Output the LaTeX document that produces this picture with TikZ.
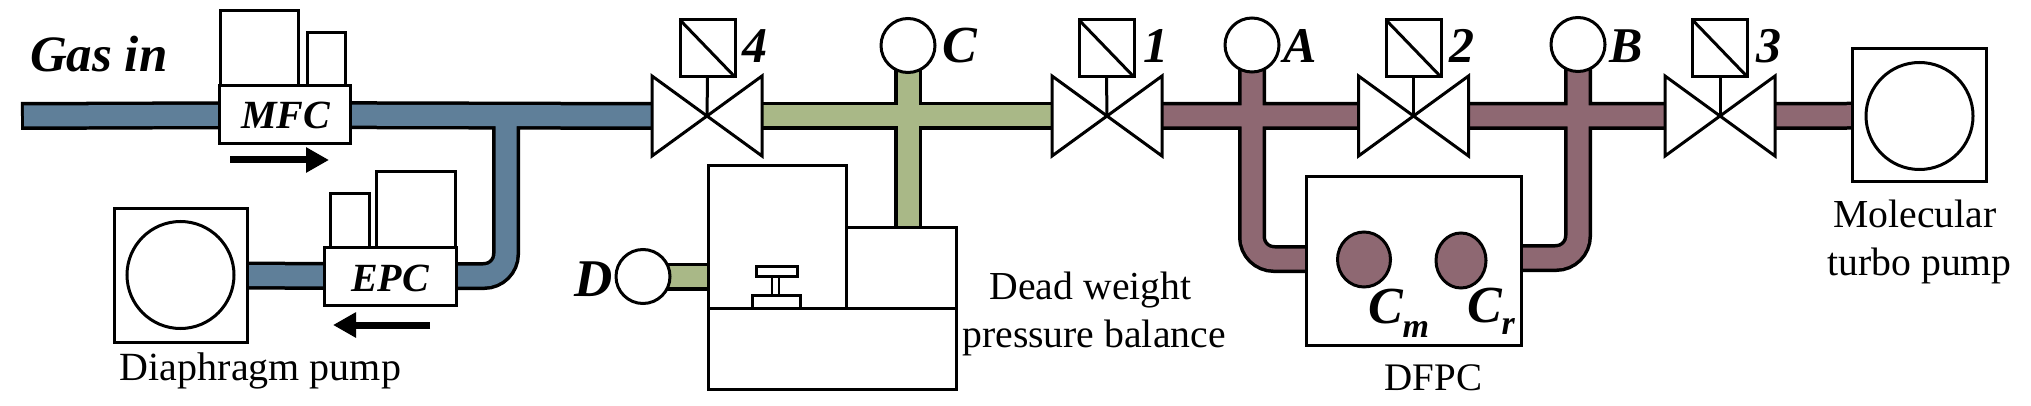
\documentclass[tikz,border=0pt]{standalone}
\usepackage{fontspec}
\setmainfont{Liberation Serif}
\usetikzlibrary{arrows.meta,backgrounds,shapes.geometric}
\definecolor{pipeblue}{HTML}{5F7F99}
\definecolor{pipegreen}{HTML}{A9B887}
\definecolor{pipemaroon}{HTML}{8E6872}
\newcommand{\fs}[1]{\fontsize{#1}{#1}\selectfont}
\tikzset{
  x=1pt,y=-1pt,
  part/.style n args={2}{draw=black,fill=white,rectangle,line width=3pt,inner sep=0pt,outer sep=0pt,minimum width=#1,minimum height=#2},
  ring/.style={draw=black,fill=white,circle,line width=3pt,inner sep=0pt,outer sep=0pt,minimum size=#1},
  chamber/.style n args={2}{draw=black,fill=pipemaroon,ellipse,line width=3pt,inner sep=0pt,outer sep=0pt,minimum width=#1,minimum height=#2},
  valvebody/.style={rectangle,inner sep=0pt,outer sep=0pt,minimum width=#1,minimum height=80pt},
  bowtie/.style={draw=black,fill=white,line width=3pt,line join=miter},
  thin part/.style={line width=2.4pt},
  casing/.style={line width=28pt,draw=black,rounded corners=22pt},
  core/.style={line width=21pt,draw=#1,rounded corners=22pt},
  flow/.style={line width=7pt,-{Triangle[length=23pt,width=24pt]}},
  lbl/.style={anchor=base west,inner sep=0pt,outer sep=0pt,font=\bfseries\itshape\fs{#1}},
  cap/.style={anchor=base,inner sep=0pt,outer sep=0pt,font=\fs{#1}},
}
\begin{document}
\begin{tikzpicture}
\useasboundingbox (0,0) rectangle (2031,406);
% MFC
\node[part={78pt}{75pt}] (mfcbig) at (259,48.5) {};
\node[part={38pt}{53pt}] (mfcsmall) at (326,59.5) {};
\node[part={131pt}{58pt}] (mfc) at (284.5,115) {};
% EPC
\node[part={39pt}{53pt}] (epcsmall) at (349.5,220.5) {};
\node[part={79pt}{75pt}] (epcbig) at (415.5,209.5) {};
\node[part={132pt}{58pt}] (epc) at (390,276) {};
% pumps
\node[part={133pt}{133pt}] (dpump) at (180.5,275.5) {};
\node[ring=107pt] (dpumpc) at (180.5,275) {};
\node[part={134pt}{133pt}] (tpump) at (1919.5,115.5) {};
\node[ring=107pt] (tpumpc) at (1919.5,116) {};
% balance
\node[part={138pt}{142pt}] (bupper) at (777,237) {};
\node[part={110pt}{81pt}] (bright) at (901,267.5) {};
\node[part={248pt}{81pt}] (blower) at (832,348.5) {};
\node[part={7pt}{19pt},thin part] (tstem) at (775.5,285.5) {};
\node[part={41pt}{10pt}] (ttop) at (776.5,271) {};
\node[part={48pt}{13pt}] (tblock) at (776,301.5) {};
% DFPC
\node[part={215pt}{168pt}] (dfpc) at (1413.5,261) {};
\node[chamber={53pt}{55pt}] (cm) at (1364,259.5) {};
\node[chamber={50pt}{55pt}] (cr) at (1461,260.5) {};
% gauges
\node[ring=54pt] (gC) at (908,45.5) {};
\node[ring=54pt] (gA) at (1252,45) {};
\node[ring=54pt] (gB) at (1578,44.5) {};
\node[ring=54pt] (gD) at (643,276.5) {};
% valves
\foreach \n/\vx/\sx in {4/707/707.5,1/1107/1106.5,2/1413.5/1413.5,3/1720/1720}{
  \node[valvebody=110pt] (v\n) at (\vx,116) {};
  \node[part={55pt}{57pt}] (s\n) at (\sx,48.5) {};
  \draw[line width=3pt] (s\n.north west) -- (s\n.south east);
  \draw[line width=3pt] (s\n.south) -- (v\n.center);
  \draw[bowtie] (v\n.north west) -- (v\n.center) -- (v\n.south west) -- cycle;
  \draw[bowtie] (v\n.north east) -- (v\n.center) -- (v\n.south east) -- cycle;
}
% free pipe points
\coordinate (in0) at (21,116);
\coordinate (in1) at (24,116);
\coordinate (j1) at (506,116);
\coordinate (pA) at (1330,259);
\coordinate (pB) at (1500,258);
\begin{pgfonlayer}{background}
  \def\bluepipes{(mfc.center) -- (v4.west) (dpump.center) -- (epc.center) (epc.center) -| (j1)}
  \def\greenpipes{(v4.east) -- (v1.west) (gC.center) -- (gC.center |- bright.center) (gD.center) -- (gD.center -| bupper.center)}
  \def\maroonpipes{(v1.east) -- (v2.west) (v2.east) -- (v3.west) (v3.east) -- (tpump.center) (gA.center) |- (pA) (gB.center) |- (pB)}
  \draw[casing] (in0) -- (mfc.center);
  \draw[casing] \bluepipes;
  \draw[casing] \greenpipes;
  \draw[casing] \maroonpipes;
  \draw[core=pipeblue] (in1) -- (mfc.center);
  \draw[core=pipeblue] \bluepipes;
  \draw[core=pipegreen] \greenpipes;
  \draw[core=pipemaroon] \maroonpipes;
\end{pgfonlayer}
% flow arrows
\coordinate (fa0) at (230,160);
\coordinate (fa1) at (329,160);
\coordinate (fb0) at (430,325);
\coordinate (fb1) at (333,325);
\draw[flow] (fa0) -- (fa1);
\draw[flow] (fb0) -- (fb1);
% labels
\node[lbl=51] (tgas) at (30,72) {Gas in};
\node[lbl=40] (tmfc) at (241,129) {MFC};
\node[lbl=40] (tepc) at (351,291) {EPC};
\node[lbl=53] (tD) at (574,296) {D};
\node[lbl=50] (t4) at (742,63) {4};
\node[lbl=52] (tC) at (942,63) {C};
\node[lbl=50] (t1) at (1143,63) {1};
\node[lbl=50] (tA) at (1283,63) {A};
\node[lbl=50] (t2) at (1449,63) {2};
\node[lbl=50] (tB) at (1609,63) {B};
\node[lbl=50] (t3) at (1756,63) {3};
\node[lbl=52] (tCm) at (1368,323) {C\raisebox{-14pt}{\fs{34}m}};
\node[lbl=52] (tCr) at (1467,322) {C\raisebox{-12pt}{\fs{34}r}};
\node[cap=40] (tdp) at (260.5,380) {Diaphragm pump};
\node[cap=39.7] (tdw) at (1090.5,299) {Dead weight};
\node[cap=39.7] (tpb) at (1094,347) {pressure balance};
\node[cap=39] (tdf) at (1433.5,390) {DFPC};
\node[cap=39.7] (tmo) at (1915,227) {Molecular};
\node[cap=39.7] (ttu) at (1919.5,275) {turbo pump};
\end{tikzpicture}
\end{document}
